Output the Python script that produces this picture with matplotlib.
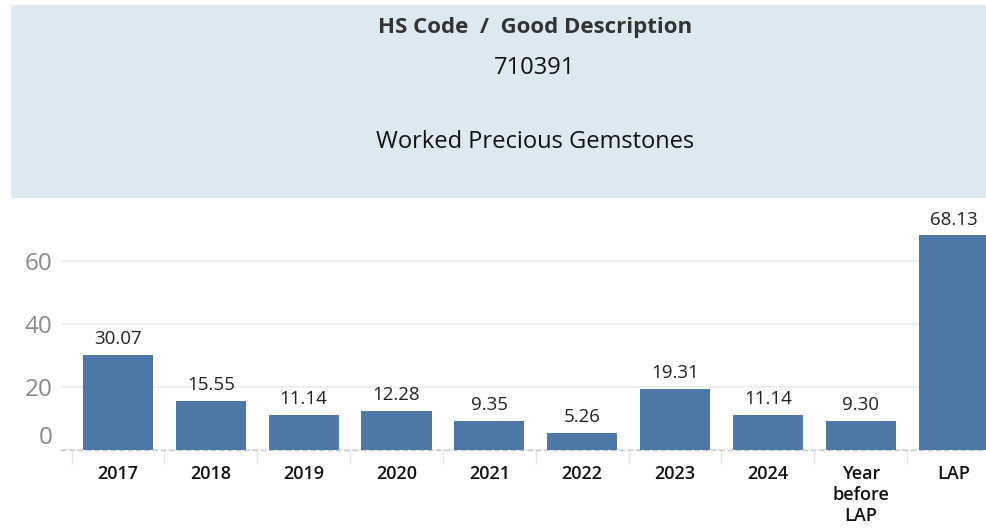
import matplotlib.pyplot as plt
from matplotlib.transforms import ScaledTranslation
from matplotlib.patches import Rectangle

categories = ["2017", "2018", "2019", "2020", "2021", "2022", "2023", "2024",
              "Year\nbefore\nLAP", "LAP"]
values = [30.07, 15.55, 11.14, 12.28, 9.35, 5.26, 19.31, 11.14, 9.30, 68.13]
yticks = [0, 20, 40, 60]

title_line = "HS Code  /  Good Description"
hs_code = "710391"
description = "Worked Precious Gemstones"

plt.rcParams['font.family'] = ['Open Sans', 'DejaVu Sans']

W, H = 987, 531
fig = plt.figure(figsize=(W / 100, H / 100), dpi=100)

# header panel
fig.patches.append(Rectangle((11 / W, 1 - 198 / H), (W - 11) / W, 193 / H,
                             transform=fig.transFigure, facecolor='#dce9f0',
                             edgecolor='none', zorder=0))
fig.text(535 / W, 1 - 27 / H, title_line, ha='center', va='center',
         fontsize=16, fontweight='bold', color='#333333')
fig.text(535 / W, 1 - 68 / H, hs_code, ha='center', va='center',
         fontsize=17, color='#111111')
fig.text(535 / W, 1 - 142 / H, description, ha='center', va='center',
         fontsize=17, color='#111111')

# bar chart
ax = fig.add_axes([61 / W, (H - 450) / H, (W - 61) / W, 245 / H])
x = list(range(len(categories)))
ax.bar(x, values, width=0.755, color='#4e79a7', zorder=3)
for xi, v in zip(x, values):
    ax.annotate(f"{v:.2f}", (xi, v), xytext=(0, 5), textcoords='offset points',
                ha='center', va='bottom', fontsize=13.5, color='#222222')

ax.set_xlim(-0.614, 9.36)
ax.set_ylim(0, 77.8)
ax.set_yticks(yticks)
ax.set_yticklabels([str(t) for t in yticks])
ax.tick_params(axis='y', length=0, labelsize=17.5, labelcolor='#8a8a8a', pad=6)
ax.set_xticks(x)
ax.set_xticklabels(categories, fontweight='semibold', fontsize=13,
                   color='#111111', linespacing=1.2)
ax.tick_params(axis='x', which='major', length=0, pad=11)
ax.set_xticks([i - 0.5 for i in x], minor=True)
ax.tick_params(axis='x', which='minor', length=10, width=1, color='#e6e6e6')
ax.tick_params(axis='x', which='minor', labelbottom=False)

# lift the "0" label like the original
lab0 = ax.get_yticklabels()[0]
lab0.set_transform(lab0.get_transform() + ScaledTranslation(0, 15 / 100, fig.dpi_scale_trans))

ax.grid(axis='y', color='#ebebeb', linewidth=1.2, zorder=0)
for s in ['top', 'right', 'left']:
    ax.spines[s].set_visible(False)
ax.spines['bottom'].set_color('#c8c8c8')
ax.spines['bottom'].set_linestyle((0, (3, 3)))
ax.spines['bottom'].set_linewidth(1)

fig.savefig("out.png", dpi=100)
